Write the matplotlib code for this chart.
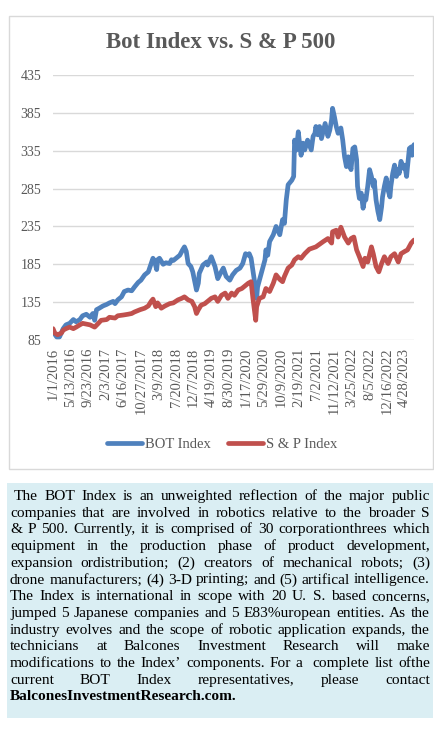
import matplotlib
matplotlib.use("Agg")
import matplotlib.pyplot as plt
from matplotlib.patches import Rectangle

# weekly data, position = week number counted from 1/1/2016
bot_week = [0, 4, 7, 11, 14, 18, 22, 25, 29, 32, 36, 40, 43, 45, 47, 50, 54, 58, 61, 65,
            67, 70, 74, 77, 81, 85, 88, 92, 95, 99, 103, 106, 108, 110, 112, 113, 115, 119, 122, 126,
            128, 130, 133, 137, 140, 142, 144, 146, 149, 151, 155, 157, 158, 162, 166, 167, 171, 175, 178, 180,
            184, 187, 191, 194, 198, 202, 205, 208, 211, 212, 214, 218, 220, 221, 225, 229, 230, 232, 234, 238,
            241, 245, 248, 250, 252, 254, 258, 260, 261, 263, 265, 266, 268, 270, 272, 275, 279, 281, 283, 284,
            286, 288, 290, 294, 297, 299, 301, 302, 304, 306, 308, 310, 311, 313, 315, 317, 319, 320, 322, 324,
            326, 328, 329, 331, 333, 335, 337, 338, 340, 342, 344, 346, 347, 349, 351, 353, 355, 356, 358, 360,
            362, 364, 365, 367, 369, 371, 373, 374, 376, 378, 380, 382, 383, 385, 387, 388, 390]
bot_value = [96, 89, 89, 100, 105, 107, 112, 109, 112, 117, 119, 115, 120, 111, 125, 127, 130, 132, 134, 136,
             133, 138, 142, 149, 151, 150, 155, 161, 164, 171, 175, 186, 193, 188, 178, 191, 193, 185, 187, 186,
             191, 190, 193, 197, 204, 208, 202, 186, 182, 175, 151, 160, 173, 184, 188, 184, 195, 182, 166, 171,
             180, 169, 164, 171, 177, 180, 186, 199, 197, 199, 193, 160, 140, 155, 173, 191, 204, 197, 215, 224,
             235, 224, 244, 239, 270, 290, 296, 301, 349, 336, 360, 349, 329, 345, 336, 349, 336, 354, 358, 367,
             356, 367, 351, 371, 354, 362, 376, 391, 380, 367, 358, 362, 365, 349, 327, 314, 327, 318, 310, 338,
             340, 323, 288, 272, 279, 259, 274, 270, 288, 310, 301, 288, 296, 270, 255, 244, 261, 274, 288, 299,
             283, 274, 288, 305, 316, 301, 310, 305, 321, 312, 316, 301, 314, 338, 340, 329, 343]

spx_week = [0, 2, 5, 9, 11, 14, 18, 22, 25, 29, 32, 36, 40, 45, 49, 52, 58, 61, 67, 70,
            76, 81, 85, 88, 94, 99, 103, 106, 108, 111, 113, 117, 121, 126, 130, 135, 139, 142, 146, 150,
            153, 155, 157, 160, 164, 167, 171, 175, 178, 182, 186, 189, 193, 196, 200, 204, 207, 211, 214, 216,
            219, 220, 223, 227, 230, 234, 238, 241, 245, 248, 250, 254, 258, 261, 265, 268, 272, 277, 284, 292,
            297, 301, 302, 306, 308, 311, 315, 319, 322, 325, 328, 331, 335, 337, 340, 344, 346, 349, 352, 355,
            358, 362, 365, 369, 373, 376, 380, 383, 387, 390]
spx_value = [100, 94, 92, 94, 98, 100, 102, 100, 102, 105, 107, 106, 105, 102, 107, 111, 112, 115, 114, 117,
             118, 119, 120, 122, 125, 127, 130, 136, 139, 129, 134, 127, 130, 133, 134, 138, 140, 142, 138, 136,
             129, 120, 125, 131, 133, 136, 140, 142, 136, 144, 147, 140, 147, 144, 151, 153, 156, 160, 162, 140,
             111, 129, 140, 142, 153, 149, 160, 171, 165, 162, 169, 180, 184, 191, 195, 193, 199, 205, 208, 215,
             219, 213, 228, 230, 221, 234, 221, 213, 219, 221, 204, 195, 182, 193, 188, 208, 199, 182, 175, 186,
             195, 186, 195, 199, 188, 199, 202, 204, 213, 217]

tick_week = [0, 19, 38, 57, 76, 95, 114, 133, 152, 171, 190, 209, 228, 247, 266, 285, 304, 323, 342, 361, 380]
tick_labels = ["1/1/2016", "5/13/2016", "9/23/2016", "2/3/2017", "6/16/2017", "10/27/2017",
               "3/9/2018", "7/20/2018", "12/7/2018", "4/19/2019", "8/30/2019", "1/17/2020",
               "5/29/2020", "10/9/2020", "2/19/2021", "7/2/2021", "11/12/2021", "3/25/2022",
               "8/5/2022", "12/16/2022", "4/28/2023"]
y_ticks = [85, 135, 185, 235, 285, 335, 385, 435]

note_lines = [
    " The BOT Index is an unweighted reflection of the major public",
    "companies that are involved in robotics relative to the broader S",
    "& P 500. Currently, it is comprised of 30 corporationthrees which",
    "equipment in the production phase of product development,",
    "expansion ordistribution; (2) creators of mechanical robots; (3)",
    "drone manufacturers; (4) 3-D printing; and (5) artifical intelligence.",
    "The Index is international in scope with 20 U. S. based concerns,",
    "jumped 5 Japanese companies and 5 E83%uropean entities. As the",
    "industry evolves and the scope of robotic application expands, the",
    "technicians at Balcones Investment Research will make",
    "modifications to the Index\u2019 components. For a  complete list ofthe",
    "current BOT Index representatives, please contact",
]
note_last = "BalconesInvestmentResearch.com."

W, H = 435, 742
serif = "Liberation Serif"
grey = "#595959"
blue = "#4F81BD"
red = "#C0504D"


def fx(x):
    return x / W


def fy(y):
    return 1 - y / H


fig = plt.figure(figsize=(W / 100, H / 100), dpi=100)

# chart area frame
fig.patches.append(Rectangle((fx(9.5), fy(469)), fx(433) - fx(9.5), fy(16) - fy(469),
                             transform=fig.transFigure, facecolor="white",
                             edgecolor="#D9D9D9", lw=1, zorder=-5))

ax = fig.add_axes([fx(53), fy(340), fx(414) - fx(53), fy(75) - fy(340)])
ax.plot(bot_week, bot_value, color=blue, lw=3.4, label="BOT Index", solid_capstyle="round")
ax.plot(spx_week, spx_value, color=red, lw=3.4, label="S & P Index", solid_capstyle="round")

ax.set_xlim(0, 390)
ax.set_ylim(85, 435)
ax.set_yticks(y_ticks)
ax.set_yticklabels([str(v) for v in y_ticks], family=serif, fontsize=10, color=grey)
ax.set_xticks(tick_week)
ax.set_xticklabels(tick_labels, rotation=90, family=serif, fontsize=10.5, color=grey)
ax.tick_params(axis="y", length=0, pad=8.5)
ax.tick_params(axis="x", length=0, pad=5.5)
ax.yaxis.grid(True, color="#D9D9D9", lw=1)
ax.set_axisbelow(True)
for s in ax.spines.values():
    s.set_visible(False)
ax.patch.set_alpha(0)

fig.text(fx(221), fy(43), "Bot Index vs. S & P 500", family=serif, fontweight="bold",
         fontsize=16.5, color=grey, ha="center", va="center")

fig.legend(loc="center", bbox_to_anchor=(fx(222), fy(444)), ncol=2, frameon=False,
           prop={"family": serif, "size": 10.5}, labelcolor=grey, handlelength=2.4,
           handletextpad=0.2, columnspacing=1.2)

# note box
fig.patches.append(Rectangle((fx(7), fy(718)), fx(433) - fx(7), fy(483) - fy(718),
                             transform=fig.transFigure, facecolor="#DAEEF3", edgecolor="none",
                             zorder=-5))

renderer = fig.canvas.get_renderer()
left, right = 10, 430
base0, step = 500, 16.7

# pick a size so the fullest line just fills the box width
probe = 10
widest = 0
for line in note_lines:
    t = fig.text(0, 0, line.strip(), family=serif, fontsize=probe)
    widest = max(widest, t.get_window_extent(renderer).width)
    t.remove()
fsize = probe * (right - left) / widest * 0.995

for i, line in enumerate(note_lines):
    y = base0 + i * step
    indent = 0
    if line.startswith(" "):
        indent = 4
        line = line[1:]
    words = line.split(" ")
    texts = []
    widths = []
    for w in words:
        t = fig.text(0, fy(y), w, family=serif, fontsize=fsize, color="black", va="baseline")
        texts.append(t)
        widths.append(t.get_window_extent(renderer).width if w else 0)
    gap = (right - left - indent - sum(widths)) / (len(words) - 1)
    x = left + indent
    for t, wd in zip(texts, widths):
        t.set_x(fx(x))
        x += wd + gap

fig.text(fx(left), fy(base0 + len(note_lines) * step), note_last, family=serif,
         fontsize=fsize, fontweight="bold", color="black", va="baseline")

fig.savefig("out.png", dpi=100)
